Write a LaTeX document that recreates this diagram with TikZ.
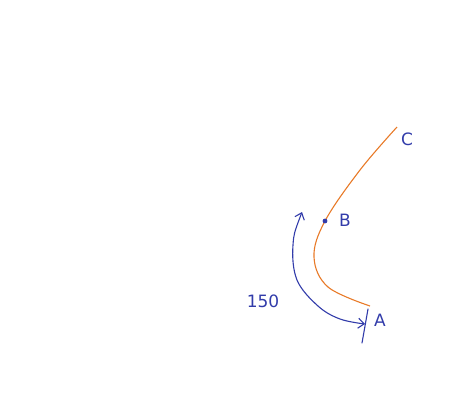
\documentclass[tikz,border=0pt]{standalone}
\usepackage{fontspec}
\setmainfont{DejaVu Sans}
\usetikzlibrary{arrows.meta}
\definecolor{ink}{RGB}{50,60,170}
\definecolor{curv}{RGB}{232,122,40}
\tikzset{
  lbl/.style={text=ink, font=\fontsize{17}{17}\selectfont, inner sep=0pt},
  orangeline/.style={draw=curv, line width=1.1pt},
  blueline/.style={draw=ink, line width=1.1pt, line cap=round}
}
\begin{document}
\begin{tikzpicture}[x=1pt,y=-1pt]
\useasboundingbox (0,0) rectangle (474,400);
\coordinate (cEnd) at (397,127);
\coordinate (bPt) at (325,221);
\coordinate (aEnd) at (370,306);
\draw[orangeline] plot[smooth, tension=0.6] coordinates {(397,127) (360,170) (325,221) (314,257) (328,287) (370,306)};
\fill[ink] (bPt) circle (2.4pt);
\node[lbl] (C) at (407,139) {C};
\node[lbl] (B) at (345,220) {B};
\node[lbl] (A) at (380,320) {A};
\node[lbl] (n150) at (263,301) {150};
\coordinate (arcTop) at (302,212);
\coordinate (arcBot) at (365,324);
\draw[blueline, {Straight Barb[length=6pt,width=10pt]}-{Straight Barb[length=6pt,width=10pt]}]
  plot[smooth, tension=0.6] coordinates {(302,212) (293,245) (297,280) (318,306) (340,319) (365,324)};
\draw[blueline] (368,309) -- (362,343);
\end{tikzpicture}
\end{document}
